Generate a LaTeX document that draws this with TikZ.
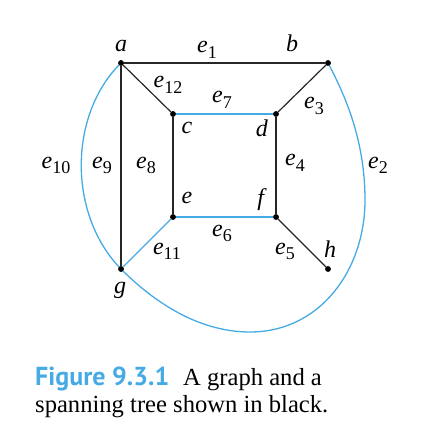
\documentclass[tikz,border=0pt]{standalone}
\usepackage{fontspec}
\setmainfont{Liberation Serif}
\newfontfamily\capsans{PT Sans}
\definecolor{tblue}{RGB}{70,170,228}
\newcommand\elab[2]{\textit{#1}\raisebox{-5.5pt}{\fontsize{18}{18}\selectfont #2}}
\tikzset{
  vdot/.style={circle,fill=black,inner sep=0pt,minimum size=5.5pt},
  tree/.style={draw=black!85,line width=1.2pt},
  cotree/.style={draw=tblue,line width=1.3pt},
  lab/.style={anchor=base,inner sep=0pt,font=\fontsize{24}{24}\selectfont},
  captext/.style={anchor=base west,inner sep=0pt,font=\fontsize{24.6}{24.6}\selectfont}
}
\begin{document}
\begin{tikzpicture}[x=1pt,y=-1pt]
\useasboundingbox (0,0) rectangle (432,438);
% vertices
\node[vdot] (a) at (121,63) {};
\node[vdot] (b) at (328,63) {};
\node[vdot] (c) at (173,114) {};
\node[vdot] (d) at (276,114) {};
\node[vdot] (e) at (173,217) {};
\node[vdot] (f) at (276,217) {};
\node[vdot] (g) at (121,269) {};
\node[vdot] (h) at (328,269) {};
\coordinate (p1) at (250,332);
\coordinate (p2) at (365,200);
% blue (non-tree) edges
\draw[cotree] (c) -- (d);
\draw[cotree] (e) -- (f);
\draw[cotree] (e) -- (g);
\draw[cotree] (a.center) .. controls (68,115) and (68,215) .. (g.center);
\draw[cotree] (g.center) .. controls (150,298) and (195,332) .. (p1)
  .. controls (320,332) and (365,270) .. (p2)
  .. controls (365,140) and (345,95) .. (b.center);
% black (tree) edges
\draw[tree] (a) -- (b);
\draw[tree] (a) -- (c);
\draw[tree] (b) -- (d);
\draw[tree] (d) -- (f);
\draw[tree] (c) -- (e);
\draw[tree] (a) -- (g);
\draw[tree] (f) -- (h);
% redraw dots on top
\foreach \v in {a,b,c,d,e,f,g,h} \fill (\v) circle (2.75pt);
% labels
\node[lab] (la) at (121,52) {\textit{a}};
\node[lab] (lb) at (292,52) {\textit{b}};
\node[lab] (lc) at (187,134) {\textit{c}};
\node[lab] (ld) at (262,137) {\textit{d}};
\node[lab] (le) at (187,204) {\textit{e}};
\node[lab] (lf) at (262,205) {\textit{f}};
\node[lab] (lg) at (120,293) {\textit{g}};
\node[lab] (lh) at (330,257) {\textit{h}};
\node[lab] (le1) at (207,53) {\elab{e}{1}};
\node[lab] (le2) at (378,168) {\elab{e}{2}};
\node[lab] (le3) at (314,109) {\elab{e}{3}};
\node[lab] (le4) at (295,166) {\elab{e}{4}};
\node[lab] (le5) at (285,254) {\elab{e}{5}};
\node[lab] (le6) at (222,236) {\elab{e}{6}};
\node[lab] (le7) at (222,103) {\elab{e}{7}};
\node[lab] (le8) at (146,168) {\elab{e}{8}};
\node[lab] (le9) at (102,168) {\elab{e}{9}};
\node[lab] (le10) at (56,168) {\elab{e}{10}};
\node[lab] (le11) at (167,254) {\elab{e}{11}};
\node[lab] (le12) at (168,88) {\elab{e}{12}};
% caption
\node[captext,font=\capsans\bfseries\fontsize{26}{26}\selectfont,text=tblue] (cfig) at (35,385) {Figure 9.3.1};
\node[captext] (c1) at (183,385) {A graph and a};
\node[captext] (c2) at (35,412) {spanning tree shown in black.};
\end{tikzpicture}
\end{document}
